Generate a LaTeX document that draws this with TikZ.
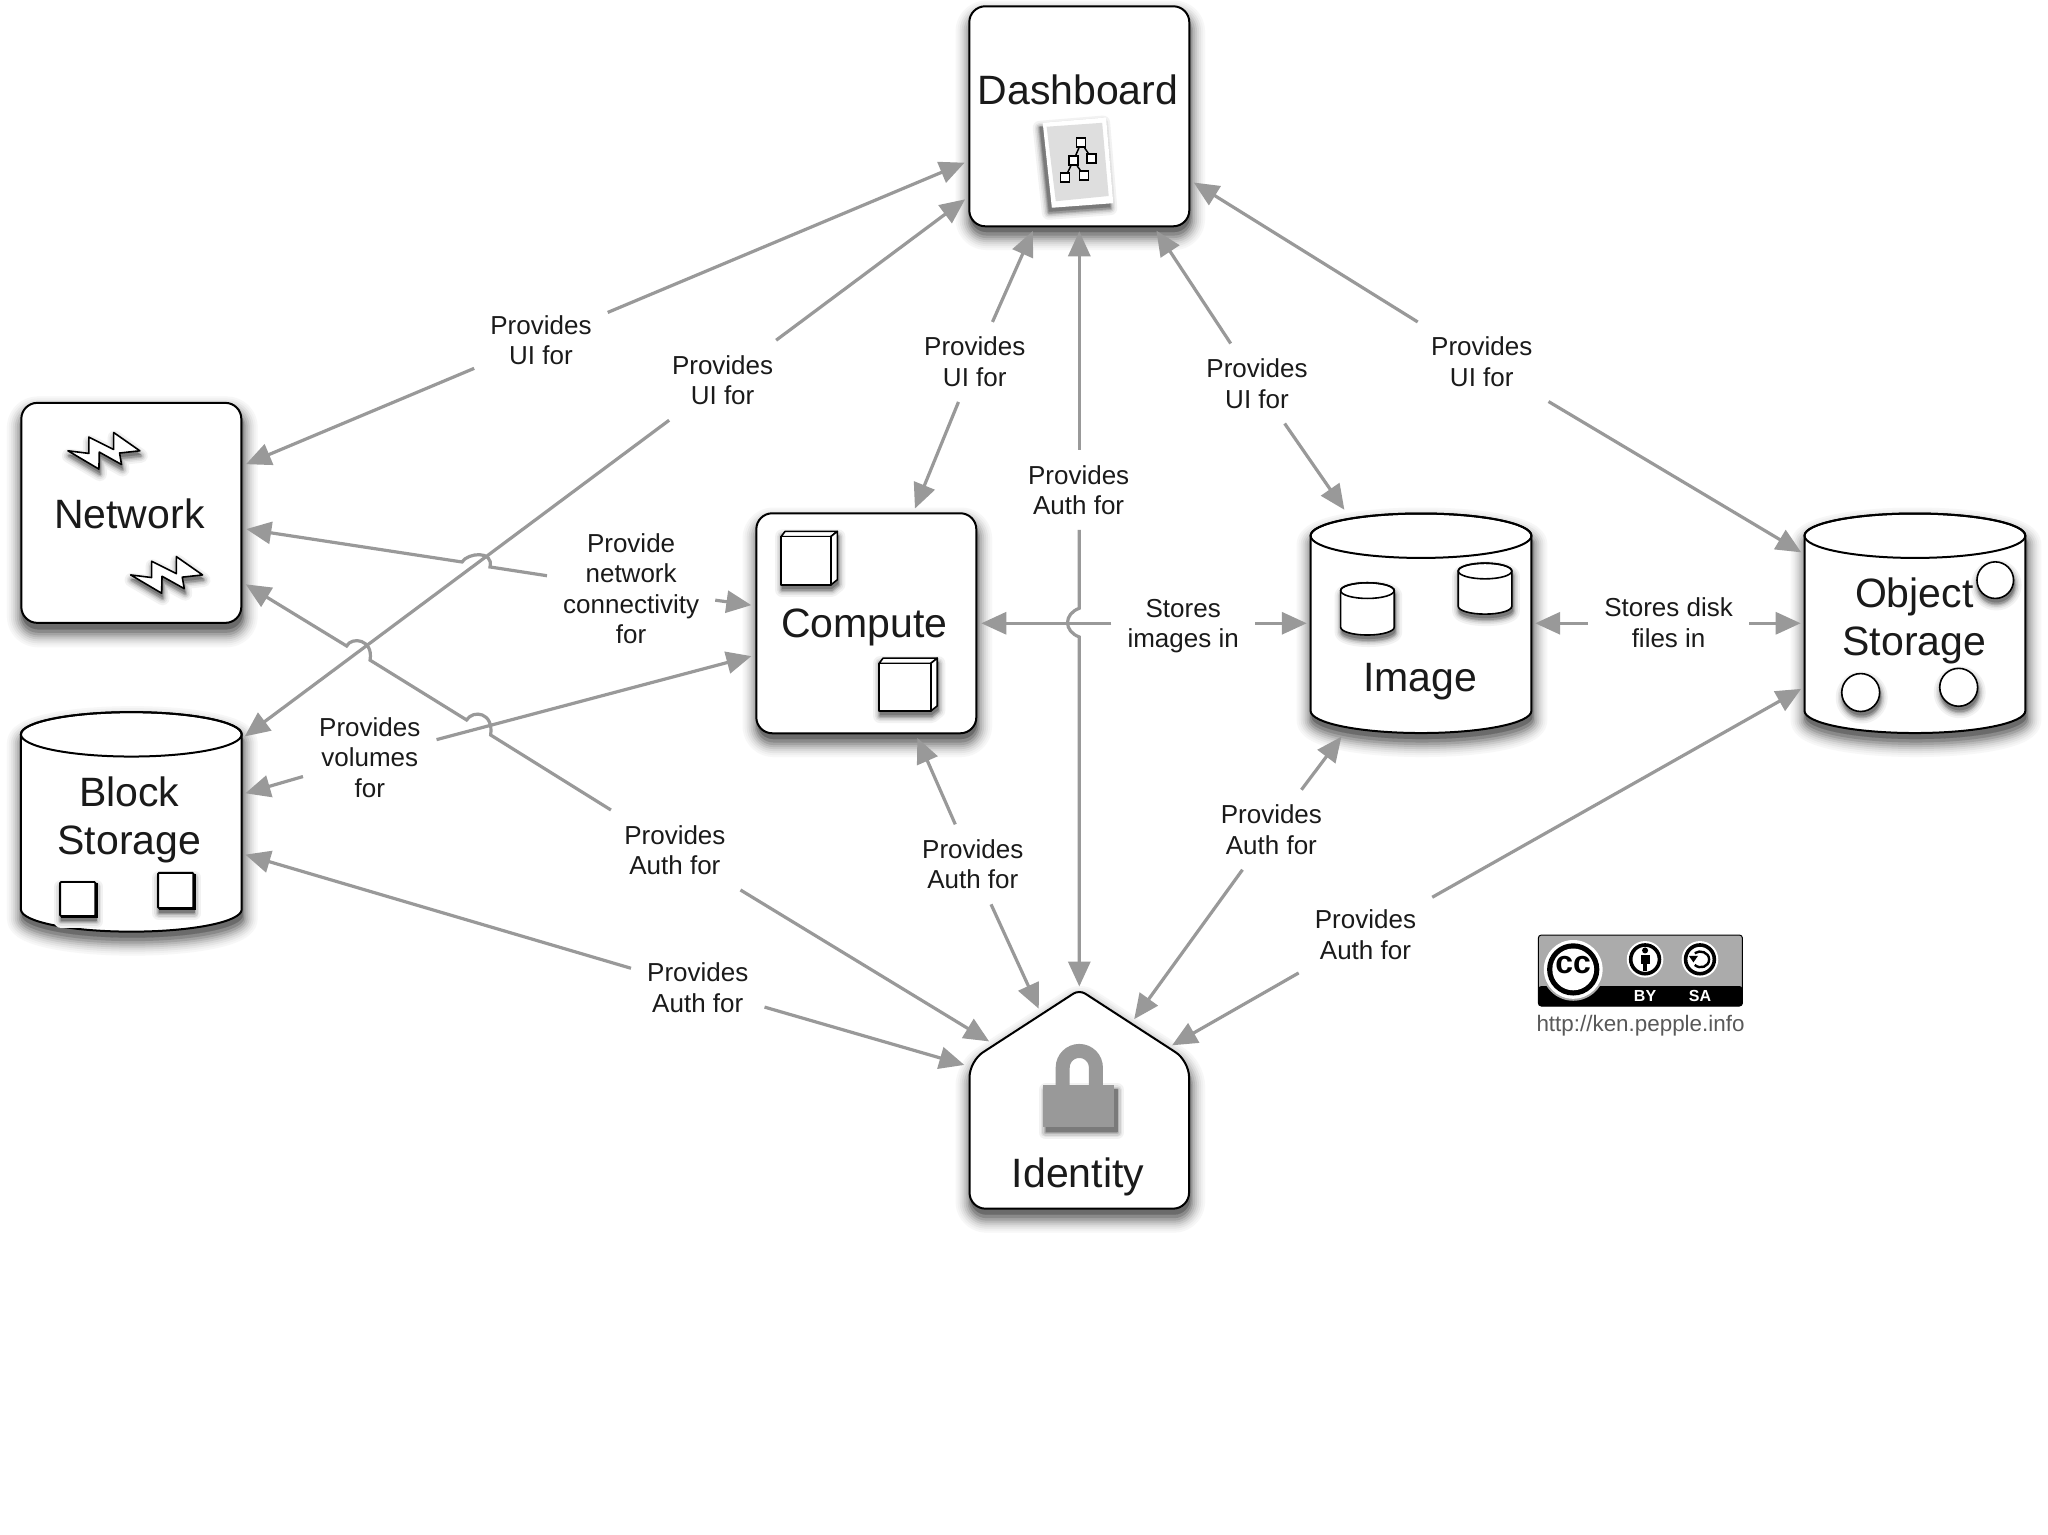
\documentclass[tikz,border=0pt]{standalone}
\usepackage{fontspec}
\setmainfont{Liberation Sans}
\usetikzlibrary{arrows.meta,calc}
\definecolor{linegray}{HTML}{999999}
\definecolor{inkdark}{HTML}{1A1A1A}
\tikzset{
  svc/.style={draw=black,line width=2pt,fill=white,rounded corners=16pt,minimum size=220pt,inner sep=0pt},
  ghost/.style={minimum size=220pt,inner sep=0pt},
  title/.style={text=inkdark,font=\fontsize{41}{48.5}\selectfont,align=center,inner sep=0pt},
  lbl/.style={text=inkdark,font=\fontsize{26}{30.5}\selectfont,align=center,inner xsep=16pt,inner ysep=15pt},
  arr/.style={draw=linegray,line width=3.2pt,-{Triangle[length=25pt,width=22pt]},shorten >=4pt},
  arrz/.style={arr,shorten >=0pt},
  outl/.style={draw=black,line width=2pt,fill=white,line join=round},
  mini/.style={draw=black,line width=1.6pt,fill=white,line join=round},
  treebox/.style={draw=black,line width=1.5pt,fill=white,minimum size=9pt,inner sep=0pt},
}
\newcommand{\softshadow}[2]{%
  \foreach \w/\d/\g in {#1} {
    \begin{scope}[yshift=-\d pt,xshift=1pt]
      \path[draw=black!\g,fill=black!\g,line width=\w pt,line join=round,line cap=round] #2;
    \end{scope}
  }}
\newcommand{\bigshadow}[1]{\softshadow{30/9/3,26/9/6,22/9/10,18/9/15,14/9/21,10/9/28,6/9/36,3/8/46,0.1/6/58}{#1}}
\newcommand{\smallshadow}[1]{\softshadow{14/5/5,10/5/11,7/5/19,4/5/29,2/5/40,0.1/4/52}{#1}}
% cx, top y, rx, bottom y, ry
\newcommand{\cylbody}[5]{(#1-#3,#2+#5) arc[start angle=180,end angle=0,x radius=#3,y radius=-#5] -- (#1+#3,#4-#5) arc[start angle=0,end angle=180,x radius=#3,y radius=#5] -- cycle}
\newcommand{\cylinder}[5]{%
  \bigshadow{\cylbody{#1}{#2}{#3}{#4}{#5}}
  \path[outl] \cylbody{#1}{#2}{#3}{#4}{#5};
  \draw[line width=2pt,black] (#1,#2+#5) ellipse[x radius=#3,y radius=#5];}
\newcommand{\minicyl}[5]{%
  \smallshadow{\cylbody{#1}{#2}{#3}{#4}{#5}}
  \path[mini] \cylbody{#1}{#2}{#3}{#4}{#5};
  \draw[line width=1.6pt,black] (#1,#2+#5) ellipse[x radius=#3,y radius=#5];}
\newcommand{\boltshape}[2]{%
  \begin{scope}[shift={(#1,#2)}]
    \smallshadow{(0,0) -- (16,2) -- (16,-10.5) -- (35,-1) -- (35,-14) -- (55,0) -- (39.5,1.7) -- (41,10.5) -- (24,1) -- (23.7,14) -- cycle}
    \path[mini] (0,0) -- (16,2) -- (16,-10.5) -- (35,-1) -- (35,-14) -- (55,0) -- (39.5,1.7) -- (41,10.5) -- (24,1) -- (23.7,14) -- cycle;
  \end{scope}}
\newcommand{\cube}[4]{%
  \smallshadow{(#1,#2-4) -- (#3+5,#2-4) -- (#3+5,#4-4) -- (#3,#4) -- (#1,#4) -- cycle}
  \path[mini] (#1,#2) -- (#1+3,#2-4) -- (#3+5,#2-4) -- (#3,#2) -- cycle;
  \path[mini] (#3,#2) -- (#3+5,#2-4) -- (#3+5,#4-4) -- (#3,#4) -- cycle;
  \path[mini] (#1,#2) rectangle (#3,#4);}
\newcommand{\squareicon}[4]{%
  \smallshadow{(#1,#2) rectangle (#3,#4)}
  \draw[black,line width=1.8pt,fill=white,rounded corners=1pt] (#1,#2) rectangle (#3,#4);
  \draw[black,line width=3pt] (#1+.5,#4+.5) -- (#3+.5,#4+.5) -- (#3+.5,#2+.5);}
\newcommand{\circleicon}[3]{%
  \smallshadow{(#1,#2) circle[radius=#3]}
  \path[mini] (#1,#2) circle[radius=#3];}
\newcommand{\housepath}{(742,812) [rounded corners=7pt] -- (826,757.5) [rounded corners=16pt] -- (910,812) -- (910,925) -- (742,925) -- cycle}
\begin{document}
\begin{tikzpicture}[x=1.30664pt,y=-1.30664pt]
\useasboundingbox (0,0) rectangle (1567.36,1174.76);
\fill[white] (0,0) rectangle (1567.36,1174.76);

% ---------- services ----------
\begin{scope}[rounded corners=16pt]
\bigshadow{(742,5) rectangle (910,173)}
\bigshadow{(16,308) rectangle (185,477)}
\bigshadow{(579,393) rectangle (747,561)}
\end{scope}
\node[svc] (dash) at (826,89) {};
\node[svc] (network) at (100.5,392.5) {};
\node[svc] (compute) at (663,477) {};

\cylinder{100.5}{545}{84.5}{713}{17}
\node[ghost] (block) at (100.5,629) {};
\cylinder{1087.5}{393}{84.5}{561}{17}
\node[ghost] (image) at (1087.5,477) {};
\cylinder{1465.5}{393}{84.5}{561}{17}
\node[ghost] (object) at (1465.5,477) {};

\begin{scope}[rounded corners=16pt]
\bigshadow{\housepath}
\path[outl] \housepath;
\end{scope}
\node[ghost] (identity) at (826,841.5) {};

% ---------- icons ----------
% dashboard sheet
\begin{scope}[xshift=-4pt]
\smallshadow{(798,94) -- (846.5,90) -- (852,155.5) -- (805,159) -- cycle}
\end{scope}
\fill[white] (798,94) -- (846.5,90) -- (852,155.5) -- (805,159) -- cycle;
\fill[black!13] (801,97) -- (843.5,94) -- (848.5,150) -- (808,154) -- cycle;
\node[treebox] (t1) at (827.4,109.2) {};
\node[treebox] (t2) at (835.5,121.2) {};
\node[treebox] (t3) at (821.5,123) {};
\node[treebox] (t4) at (815.1,136) {};
\node[treebox] (t5) at (829.7,134.4) {};
\draw[black,line width=1.5pt] (t1) -- (t2) (t1) -- (t3) (t3) -- (t4) (t3) -- (t5);
% network bolts
\boltshape{52}{345}
\boltshape{100}{440}
% compute cubes
\cube{597.8}{410.7}{635.8}{447.7}
\cube{672.8}{507.7}{712.3}{544.2}
% block squares
\squareicon{46}{675}{73}{701}
\squareicon{121}{668}{148}{695}
% image mini cylinders
\minicyl{1046.5}{446}{20.5}{486}{6}
\minicyl{1136.5}{431}{20.5}{470}{6}
% object circles
\circleicon{1527}{444}{14}
\circleicon{1424}{530}{14.5}
\circleicon{1499}{526}{14.5}
% lock
\begin{scope}[xshift=2pt]
\smallshadow{(798,830.4) rectangle (852.6,862.8)}
\end{scope}
\draw[linegray,line width=14pt] (813.3,832) -- (813.3,817) arc[start angle=180,end angle=0,x radius=12.7,y radius=-12.7] -- (838.7,832);
\fill[linegray] (798,830.4) rectangle (852.6,862.8);

% ---------- titles ----------
\node[title] (tdash) at (825,69) {Dashboard};
\node[title] (tnet) at (99,393) {Network};
\node[title] (tcomp) at (661.5,480) {Compute};
\node[title] (tblock) at (99,627.5) {Block\\Storage};
\node[title] (timg) at (1087,522) {Image};
\node[title] (tobj) at (1465,475) {Object\\Storage};
\node[title] (tid) at (825,901) {Identity};

% ---------- connector labels ----------
\node[lbl] (lNetUI) at (414,260.5) {Provides\\UI for};
\node[lbl] (lBlockUI) at (553,291) {Provides\\UI for};
\node[lbl] (lCompUI) at (746,277) {Provides\\UI for};
\node[lbl] (lImgUI) at (962,293.5) {Provides\\UI for};
\node[lbl] (lObjUI) at (1134,277) {Provides\\UI for};
\node[lbl] (lIdAuth) at (825.5,375) {Provides\\Auth for};
\node[lbl] (lConn) at (483,450.5) {Provide\\network\\connectivity\\for};
\node[lbl] (lVol) at (283,579.5) {Provides\\volumes\\for};
\node[lbl] (lStoreImg) at (905.5,479) {Stores\\images in};
\node[lbl] (lStoreDisk) at (1277,476.5) {Stores disk\\files in};
\node[lbl] (lCompAuth) at (744.5,661.5) {Provides\\Auth for};
\node[lbl] (lImgAuth) at (973,635) {Provides\\Auth for};
\node[lbl] (lObjAuth) at (1045,715.5) {Provides\\Auth for};
\node[lbl] (lBlockAuth) at (534,756) {Provides\\Auth for};
\node[lbl] (lNetAuth) at (516.5,650.5) {Provides\\Auth for};

% roof end points of the Identity house
\coordinate (rNetAuth) at (757,797);
\coordinate (rBlockAuth) at (738,815);
\coordinate (rCompAuth) at (795,772);
\coordinate (rApex) at (826,755);
\coordinate (rImgAuth) at (868,780);
\coordinate (rObjAuth) at (897,800);
% line jumps
\coordinate (j1a) at (353.6,430.1);
\coordinate (j1b) at (375,433.9);
\coordinate (j2a) at (265.3,494.4);
\coordinate (j2b) at (283.2,505.2);
\coordinate (j3a) at (357.1,551);
\coordinate (j3b) at (375.5,562.5);
\coordinate (j4a) at (826,465.5);
\coordinate (j4b) at (826,487.5);

% ---------- connectors ----------
\draw[arr] (lNetUI) -- (dash.202.8);
\draw[arr] (lNetUI) -- (network.23.2);
\draw[arr] (lBlockUI) -- (dash.216.9);
\draw[arr] (lBlockUI) -- (block.37);
\draw[arr] (lCompUI) -- (dash.248.4);
\draw[arr] (lCompUI) -- (compute.67.5);
\draw[arr] (lImgUI) -- (dash.304.7);
\draw[arr] (lImgUI) -- (image.124.4);
\draw[arr] (lObjUI) -- (dash.330);
\draw[arr] (lObjUI) -- (object.148);
\draw[arr] (lIdAuth.north -| dash.270) -- (dash.270);
\draw[arrz] (lIdAuth.south -| j4a) -- (j4a) .. controls (814,470) and (814,483) .. (j4b) -- (rApex);
\draw[arr] (lConn) -- (compute.171);
\draw[arr] (lConn) -- (j1b) .. controls (378,421) and (358,423) .. (j1a) -- (network.-8.8);
\draw[arr] (lVol) -- (compute.196.5);
\draw[arr] (lVol) -- (block.14.7);
\draw[arr] (lStoreImg.west |- compute.0) -- (compute.0);
\draw[arr] (lStoreImg.east |- image.180) -- (image.180);
\draw[arr] (lStoreDisk.west |- image.0) -- (image.0);
\draw[arr] (lStoreDisk.east |- object.180) -- (object.180);
\draw[arr] (lCompAuth) -- (compute.-66.3);
\draw[arrz] (lCompAuth) -- (rCompAuth);
\draw[arr] (lImgAuth) -- (image.235);
\draw[arrz] (lImgAuth) -- (rImgAuth);
\draw[arr] (lObjAuth) -- (object.210.5);
\draw[arrz] (lObjAuth) -- (rObjAuth);
\draw[arr] (lBlockAuth) -- (block.-16.5);
\draw[arrz] (lBlockAuth) -- (rBlockAuth);
\draw[arrz] (lNetAuth) -- (rNetAuth);
\draw[arr] (lNetAuth) -- (j3b) .. controls (378,545) and (362,543) .. (j3a) -- (j2b) .. controls (286,489) and (269,487) .. (j2a) -- (network.-32.4);

% ---------- licence badge ----------
\fill[black!33,rounded corners=3pt] (1177.3,715.6) rectangle (1333.5,769.9);
\fill[black,rounded corners=3pt] (1177.3,754.6) rectangle (1333.5,769.9);
\draw[black,line width=1pt,rounded corners=3pt] (1177.3,715.6) rectangle (1333.5,769.9);
\fill[black!33] (1204,741.9) circle[radius=24];
\fill[white] (1204,741.9) circle[radius=22.5];
\fill[black] (1204,741.9) circle[radius=20];
\fill[white] (1204,741.9) circle[radius=16];
\node[inner sep=0pt,font=\bfseries\fontsize{32}{32}\selectfont] (ccmark) at (1204,738.5) {cc};
\fill[white] (1259,734.2) circle[radius=14];
\draw[black,line width=3.6pt] (1259,734.2) circle[radius=11];
\fill[black] (1259,727.4) circle[radius=2.3];
\fill[black] (1255.5,731) rectangle (1262.5,737.5);
\fill[black] (1257.2,736) rectangle (1260.8,743);
\fill[white] (1301,734.2) circle[radius=14];
\draw[black,line width=3.6pt] (1301,734.2) circle[radius=11];
\draw[black,line width=2.4pt] (1297,729.5) .. controls (1301,726.5) and (1308,729) .. (1308,734.2) .. controls (1308,740) and (1301,742) .. (1297,738.5);
\fill[black] (1292.5,731.5) -- (1299.5,731.5) -- (1296,736.5) -- cycle;
\node[text=white,inner sep=0pt,font=\bfseries\fontsize{16}{16}\selectfont] (by) at (1259,762.2) {BY};
\node[text=white,inner sep=0pt,font=\bfseries\fontsize{16}{16}\selectfont] (sa) at (1301,762.2) {SA};
\node[text=black!65,inner sep=0pt,font=\fontsize{22.4}{26}\selectfont] (url) at (1255.5,785) {http://ken.pepple.info};
\end{tikzpicture}
\end{document}
